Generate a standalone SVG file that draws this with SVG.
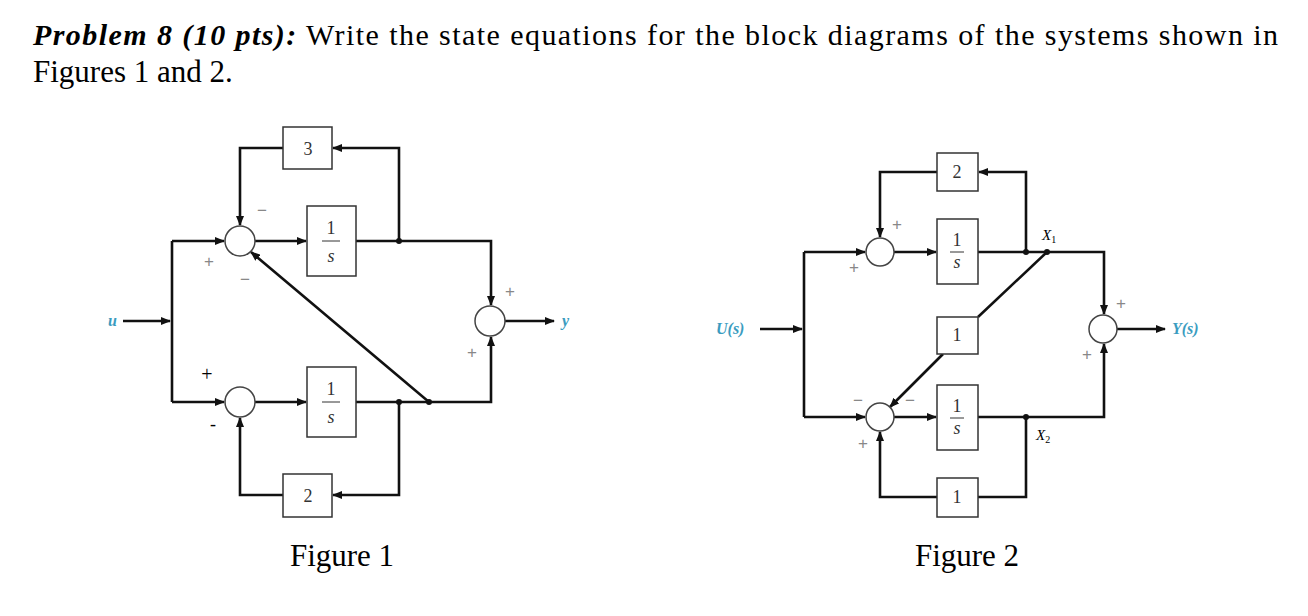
<svg xmlns="http://www.w3.org/2000/svg" width="1308" height="616" viewBox="0 0 1308 616">
<style>
.t{font-family:"Liberation Serif",serif;fill:#000}
.ln{stroke:#111;stroke-width:2.6;fill:none}
.bx{stroke:#333;stroke-width:1.5;fill:#fff}
.sm{stroke:#444;stroke-width:1.5;fill:#fff}
.g{font-family:"Liberation Serif",serif;font-size:18px;fill:#333;text-anchor:middle}
.s{font-family:"Liberation Sans",sans-serif;font-size:17px;fill:#888;text-anchor:middle}
.b{font-family:"Liberation Serif",serif;font-style:italic;font-weight:bold;font-size:16px;fill:#3a9cc0}
</style>
<defs><marker id="a" markerWidth="10" markerHeight="8" refX="9" refY="4" orient="auto" markerUnits="userSpaceOnUse"><path d="M0,0 L10,4 L0,8 z" fill="#111"/></marker></defs>
<text class="t" x="33" y="45" font-size="30" textLength="1245" lengthAdjust="spacing"><tspan font-weight="bold" font-style="italic">Problem 8 (10 pts):</tspan> Write the state equations for the block diagrams of the systems shown in</text>
<text class="t" x="33" y="82" font-size="31">Figures 1 and 2.</text>
<text class="t" x="342" y="566" font-size="31" text-anchor="middle">Figure 1</text>
<text class="t" x="967" y="566" font-size="31" text-anchor="middle">Figure 2</text>
<g id="connectors">
<path class="ln" d="M123,321 H170" marker-end="url(#a)"/>
<path class="ln" d="M172,241 V402"/>
<path class="ln" d="M172,241 H224" marker-end="url(#a)"/>
<path class="ln" d="M172,402 H224" marker-end="url(#a)"/>
<path class="ln" d="M255,241 H306" marker-end="url(#a)"/>
<path class="ln" d="M255,402 H306" marker-end="url(#a)"/>
<path class="ln" d="M356,241 H491 V305" marker-end="url(#a)"/>
<path class="ln" d="M399,241 V148 H333" marker-end="url(#a)"/>
<path class="ln" d="M283,148 H240 V225" marker-end="url(#a)"/>
<path class="ln" d="M356,402 H491 V337" marker-end="url(#a)"/>
<path class="ln" d="M399,402 V495 H333" marker-end="url(#a)"/>
<path class="ln" d="M283,495 H240 V418" marker-end="url(#a)"/>
<path class="ln" d="M429,402 L251,252" marker-end="url(#a)"/>
<path class="ln" d="M505,321 H554" marker-end="url(#a)"/>
<circle cx="399" cy="241" r="3" fill="#111"/><circle cx="399" cy="402" r="3" fill="#111"/><circle cx="429" cy="402" r="3" fill="#111"/>
<path class="ln" d="M760,329 H802" marker-end="url(#a)"/>
<path class="ln" d="M804,252 V417"/>
<path class="ln" d="M804,252 H865" marker-end="url(#a)"/>
<path class="ln" d="M804,417 H865" marker-end="url(#a)"/>
<path class="ln" d="M894,252 H936" marker-end="url(#a)"/>
<path class="ln" d="M894,417 H936" marker-end="url(#a)"/>
<path class="ln" d="M978,252 H1104 V314" marker-end="url(#a)"/>
<path class="ln" d="M1026,252 V172 H979" marker-end="url(#a)"/>
<path class="ln" d="M937,172 H880 V237" marker-end="url(#a)"/>
<path class="ln" d="M978,417 H1104 V344" marker-end="url(#a)"/>
<path class="ln" d="M1026,417 V497 H978"/>
<path class="ln" d="M937,497 H880 V432" marker-end="url(#a)"/>
<path class="ln" d="M1047,252 L978,317"/>
<path class="ln" d="M943,354 L890,407" marker-end="url(#a)"/>
<path class="ln" d="M1117,329 H1165" marker-end="url(#a)"/>
<circle cx="1026" cy="252" r="3" fill="#111"/><circle cx="1047" cy="252" r="3" fill="#111"/><circle cx="1026" cy="417" r="3" fill="#111"/>
</g>
<g id="f1-u"><text class="b" x="108" y="326">u</text></g>
<g id="f1-y"><text class="b" x="562" y="326">y</text></g>
<g id="f1-sum1"><circle class="sm" cx="240" cy="241" r="15"/><text class="s" x="262" y="216">−</text><text class="s" x="209" y="267">+</text><text class="s" x="245" y="285">−</text></g>
<g id="f1-sum2"><circle class="sm" cx="240" cy="402" r="15"/><text class="t" x="207" y="381" font-size="20" text-anchor="middle">+</text><text class="t" x="213" y="430" font-size="18" text-anchor="middle">-</text></g>
<g id="f1-sum3"><circle class="sm" cx="490" cy="321" r="15"/><text class="s" x="510" y="297">+</text><text class="s" x="472" y="358">+</text></g>
<g id="f1-int1"><rect class="bx" x="307" y="206" width="49" height="70"/><text class="g" x="331" y="234">1</text><line x1="322" y1="241" x2="340" y2="241" stroke="#333"/><text class="g" x="331" y="262" font-style="italic">s</text></g>
<g id="f1-int2"><rect class="bx" x="307" y="367" width="49" height="70"/><text class="g" x="331" y="395">1</text><line x1="322" y1="402" x2="340" y2="402" stroke="#333"/><text class="g" x="331" y="423" font-style="italic">s</text></g>
<g id="f1-g3"><rect class="bx" x="283" y="127" width="49" height="42"/><text class="g" x="308" y="155" font-size="20">3</text></g>
<g id="f1-g2"><rect class="bx" x="283" y="474" width="49" height="43"/><text class="g" x="308" y="502" font-size="20">2</text></g>
<g id="f2-u"><text class="b" x="716" y="334" font-size="13">U(s)</text></g>
<g id="f2-y"><text class="b" x="1172" y="334" font-size="13">Y(s)</text></g>
<g id="f2-sum1"><circle class="sm" cx="880" cy="252" r="14"/><text class="s" x="897" y="230" font-size="14">+</text><text class="s" x="854" y="273" font-size="14">+</text></g>
<g id="f2-sum2"><circle class="sm" cx="880" cy="417" r="14"/><text class="s" x="858" y="406" font-size="14">−</text><text class="s" x="910" y="406" font-size="14">−</text><text class="s" x="863" y="449" font-size="14">+</text></g>
<g id="f2-sum3"><circle class="sm" cx="1103" cy="329" r="14"/><text class="s" x="1121" y="309" font-size="14">+</text><text class="s" x="1087" y="360" font-size="14">+</text></g>
<g id="f2-int1"><rect class="bx" x="937" y="219" width="41" height="65"/><text class="g" x="957" y="246" font-size="13">1</text><line x1="950" y1="252" x2="964" y2="252" stroke="#333"/><text class="g" x="957" y="268" font-size="13" font-style="italic">s</text></g>
<g id="f2-int2"><rect class="bx" x="937" y="385" width="41" height="65"/><text class="g" x="957" y="412" font-size="13">1</text><line x1="950" y1="418" x2="964" y2="418" stroke="#333"/><text class="g" x="957" y="434" font-size="13" font-style="italic">s</text></g>
<g id="f2-g2"><rect class="bx" x="937" y="153" width="41" height="38"/><text class="g" x="957" y="178" font-size="14">2</text></g>
<g id="f2-g1m"><rect class="bx" x="937" y="317" width="41" height="37"/><text class="g" x="957" y="341" font-size="14">1</text></g>
<g id="f2-g1b"><rect class="bx" x="937" y="478" width="41" height="39"/><text class="g" x="957" y="503" font-size="14">1</text></g>
<g id="f2-x1"><text class="t" x="1042" y="240" font-size="15" font-style="italic" fill="#333">X<tspan font-size="10" dy="3" font-style="normal">1</tspan></text></g>
<g id="f2-x2"><text class="t" x="1036" y="440" font-size="15" font-style="italic" fill="#333">X<tspan font-size="10" dy="3" font-style="normal">2</tspan></text></g>
</svg>
